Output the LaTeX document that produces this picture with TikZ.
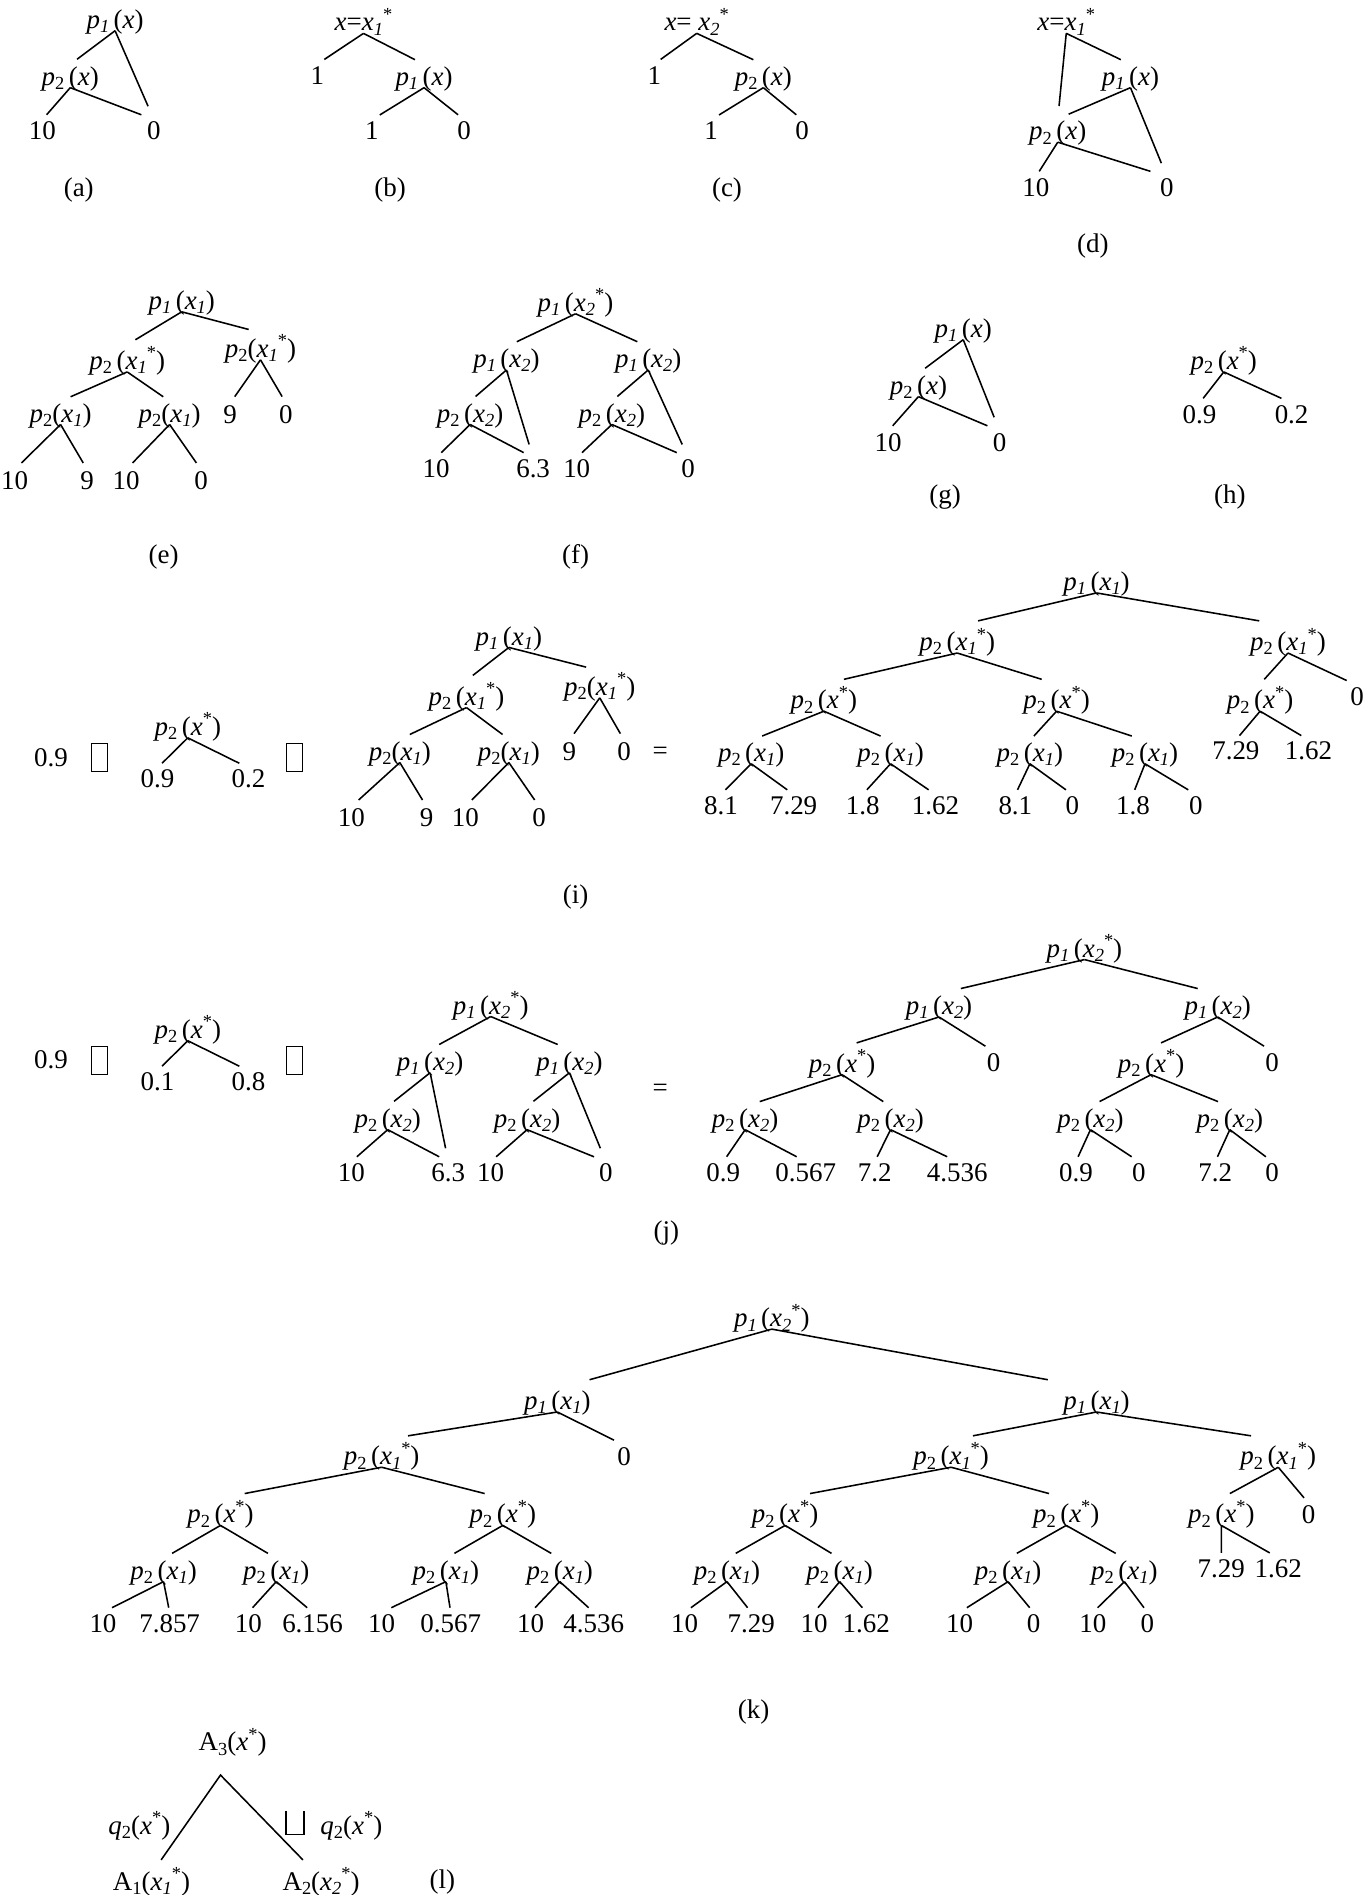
\documentclass[tikz,border=0pt]{standalone}
\usepackage{fontspec}
\usetikzlibrary{calc}
\setmainfont{Liberation Serif}
\newcommand\lo[1]{\raisebox{-0.35ex}{\fontsize{13}{13}\selectfont #1}}
\newcommand\hi[1]{\raisebox{0.85ex}{\fontsize{13}{13}\selectfont #1}}
\newcommand\Po{\textit{p}\lo{\textit{1}}}
\newcommand\Pt{\textit{p}\lo{2}}
\newcommand\xo{\textit{x}\lo{\textit{1}}}
\newcommand\xt{\textit{x}\lo{\textit{2}}}
\newcommand\xs{\textit{x}\hi{*}}
\newcommand\xos{\textit{x}\lo{\textit{1}}\hi{*}}
\newcommand\xts{\textit{x}\lo{\textit{2}}\hi{*}}
\newcommand\ed[2]{\coordinate (hubA) at ($(#1.base)+(0,2)$);\draw (hubA) -- ($(hubA)!0.85!(#2.north)$);}
\tikzset{every node/.style={inner sep=1pt,font=\fontsize{19}{22}\selectfont},
  tofu/.style={draw,line width=0.6pt,minimum width=0.4cm,minimum height=0.7cm,inner sep=0pt},
  every path/.style={line width=1.1pt}}
\begin{document}
\begin{tikzpicture}[x=0.03cm,y=-0.03cm]
\useasboundingbox (0,0) rectangle (1128,1564);
% (a)
\node (a1) at (95,18) {\Po\,(\textit{x})};
\node (a2) at (58,65) {\Pt\,(\textit{x})};
\node (a3) at (35,108) {10};
\node (a4) at (127,108) {0};
\node at (65,157) {(a)};
\ed{a1}{a2}\ed{a1}{a4}\ed{a2}{a3}\ed{a2}{a4}
% (b)
\node (b1) at (300,18) {\textit{x}=\xos};
\node (b2) at (262,62) {1};
\node (b3) at (350,65) {\Po\,(\textit{x})};
\node (b4) at (307,108) {1};
\node (b5) at (383,108) {0};
\node at (322,157) {(b)};
\ed{b1}{b2}\ed{b1}{b3}\ed{b3}{b4}\ed{b3}{b5}
% (c)
\node (c1) at (575,18) {\textit{x}= \xts};
\node (c2) at (540,62) {1};
\node (c3) at (630,65) {\Pt\,(\textit{x})};
\node (c4) at (587,108) {1};
\node (c5) at (662,108) {0};
\node at (600,157) {(c)};
\ed{c1}{c2}\ed{c1}{c3}\ed{c3}{c4}\ed{c3}{c5}
% (d)
\node (d1) at (880,18) {\textit{x}=\xos};
\node (d2) at (933,65) {\Po\,(\textit{x})};
\node (d3) at (873,110) {\Pt\,(\textit{x})};
\node (d4) at (855,155) {10};
\node (d5) at (963,155) {0};
\node at (902,203) {(d)};
\ed{d1}{d3}\ed{d1}{d2}\ed{d2}{d3}\ed{d2}{d5}\ed{d3}{d4}\ed{d3}{d5}
% (e)
\node (e1) at (150,250) {\Po\,(\xo)};
\node (e2) at (105,298) {\Pt\,(\xos)};
\node (e3) at (215,288) {\Pt(\xos)};
\node (e4) at (50,343) {\Pt(\xo)};
\node (e5) at (140,343) {\Pt(\xo)};
\node (e6) at (190,342) {9};
\node (e7) at (236,342) {0};
\node (e8) at (12,397) {10};
\node (e9) at (72,397) {9};
\node (e10) at (104,397) {10};
\node (e11) at (166,397) {0};
\node at (135,460) {(e)};
\ed{e1}{e2}\ed{e1}{e3}\ed{e2}{e4}\ed{e2}{e5}\ed{e3}{e6}\ed{e3}{e7}
\ed{e4}{e8}\ed{e4}{e9}\ed{e5}{e10}\ed{e5}{e11}
% (f)
\node (f1) at (475,250) {\Po\,(\xts)};
\node (f2) at (418,298) {\Po\,(\xt)};
\node (f3) at (535,298) {\Po\,(\xt)};
\node (f4) at (388,343) {\Pt\,(\xt)};
\node (f5) at (505,343) {\Pt\,(\xt)};
\node (f6) at (360,387) {10};
\node (f7) at (440,387) {6.3};
\node (f8) at (476,387) {10};
\node (f9) at (568,387) {0};
\node at (475,460) {(f)};
\ed{f1}{f2}\ed{f1}{f3}\ed{f2}{f4}\ed{f2}{f7}\ed{f4}{f6}\ed{f4}{f7}
\ed{f3}{f5}\ed{f3}{f9}\ed{f5}{f8}\ed{f5}{f9}
% (g)
\node (g1) at (795,273) {\Po\,(\textit{x})};
\node (g2) at (758,320) {\Pt\,(\textit{x})};
\node (g3) at (733,365) {10};
\node (g4) at (825,365) {0};
\node at (780,410) {(g)};
\ed{g1}{g2}\ed{g1}{g4}\ed{g2}{g3}\ed{g2}{g4}
% (h)
\node (h1) at (1010,298) {\Pt\,(\xs)};
\node (h2) at (990,342) {0.9};
\node (h3) at (1066,342) {0.2};
\node at (1015,410) {(h)};
\ed{h1}{h2}\ed{h1}{h3}
% (i)
\node (i0) at (42,625) {0.9};
\node[tofu] (ib1) at (82,625) {};
\node (ih1) at (155,600) {\Pt\,(\xs)};
\node (ih2) at (130,643) {0.9};
\node (ih3) at (205,643) {0.2};
\node[tofu] (ib2) at (243,625) {};
\ed{ih1}{ih2}\ed{ih1}{ih3}
\node (ie1) at (420,527) {\Po\,(\xo)};
\node (ie2) at (385,575) {\Pt\,(\xos)};
\node (ie3) at (495,567) {\Pt(\xos)};
\node (ie4) at (330,622) {\Pt(\xo)};
\node (ie5) at (420,622) {\Pt(\xo)};
\node (ie6) at (470,620) {9};
\node (ie7) at (515,620) {0};
\node (ie8) at (290,675) {10};
\node (ie9) at (352,675) {9};
\node (ie10) at (384,675) {10};
\node (ie11) at (445,675) {0};
\ed{ie1}{ie2}\ed{ie1}{ie3}\ed{ie2}{ie4}\ed{ie2}{ie5}\ed{ie3}{ie6}\ed{ie3}{ie7}
\ed{ie4}{ie8}\ed{ie4}{ie9}\ed{ie5}{ie10}\ed{ie5}{ie11}
\node (ieq) at (545,622) {=};
\node (ib1n) at (905,482) {\Po\,(\xo)};
\node (ib2n) at (790,530) {\Pt\,(\xos)};
\node (ib3n) at (1063,530) {\Pt\,(\xos)};
\node (ib4) at (680,578) {\Pt\,(\xs)};
\node (ib5) at (872,578) {\Pt\,(\xs)};
\node (ib6) at (1040,578) {\Pt\,(\xs)};
\node (ib7) at (1120,575) {0};
\node (ib8) at (620,623) {\Pt\,(\xo)};
\node (ib9) at (735,623) {\Pt\,(\xo)};
\node (ib10) at (850,623) {\Pt\,(\xo)};
\node (ib11) at (945,623) {\Pt\,(\xo)};
\node (ib12) at (1020,620) {7.29};
\node (ib13) at (1080,620) {1.62};
\node (il1) at (595,665) {8.1};
\node (il2) at (655,665) {7.29};
\node (il3) at (712,665) {1.8};
\node (il4) at (772,665) {1.62};
\node (il5) at (838,665) {8.1};
\node (il6) at (885,665) {0};
\node (il7) at (935,665) {1.8};
\node (il8) at (987,665) {0};
\node at (475,740) {(i)};
\ed{ib1n}{ib2n}\ed{ib1n}{ib3n}\ed{ib2n}{ib4}\ed{ib2n}{ib5}\ed{ib3n}{ib6}\ed{ib3n}{ib7}
\ed{ib4}{ib8}\ed{ib4}{ib9}\ed{ib5}{ib10}\ed{ib5}{ib11}\ed{ib6}{ib12}\ed{ib6}{ib13}
\ed{ib8}{il1}\ed{ib8}{il2}\ed{ib9}{il3}\ed{ib9}{il4}\ed{ib10}{il5}\ed{ib10}{il6}\ed{ib11}{il7}\ed{ib11}{il8}
% (j)
\node (j0) at (42,875) {0.9};
\node[tofu] (jb1) at (82,875) {};
\node (jh1) at (155,850) {\Pt\,(\xs)};
\node (jh2) at (130,893) {0.1};
\node (jh3) at (205,893) {0.8};
\node[tofu] (jb2) at (243,875) {};
\ed{jh1}{jh2}\ed{jh1}{jh3}
\node (jf1) at (405,830) {\Po\,(\xts)};
\node (jf2) at (355,878) {\Po\,(\xt)};
\node (jf3) at (470,878) {\Po\,(\xt)};
\node (jf4) at (320,925) {\Pt\,(\xt)};
\node (jf5) at (435,925) {\Pt\,(\xt)};
\node (jf6) at (290,968) {10};
\node (jf7) at (370,968) {6.3};
\node (jf8) at (405,968) {10};
\node (jf9) at (500,968) {0};
\ed{jf1}{jf2}\ed{jf1}{jf3}\ed{jf2}{jf4}\ed{jf2}{jf7}\ed{jf4}{jf6}\ed{jf4}{jf7}
\ed{jf3}{jf5}\ed{jf3}{jf9}\ed{jf5}{jf8}\ed{jf5}{jf9}
\node (jeq) at (545,900) {=};
\node (jb1n) at (895,783) {\Po\,(\xts)};
\node (jb2n) at (775,832) {\Po\,(\xt)};
\node (jb3n) at (1005,832) {\Po\,(\xt)};
\node (jb4) at (695,878) {\Pt\,(\xs)};
\node (jb5) at (820,877) {0};
\node (jb6) at (950,878) {\Pt\,(\xs)};
\node (jb7) at (1050,877) {0};
\node (jb8) at (615,925) {\Pt\,(\xt)};
\node (jb9) at (735,925) {\Pt\,(\xt)};
\node (jb10) at (900,925) {\Pt\,(\xt)};
\node (jb11) at (1015,925) {\Pt\,(\xt)};
\node (jl1) at (597,968) {0.9};
\node (jl2) at (665,968) {0.567};
\node (jl3) at (722,968) {7.2};
\node (jl4) at (790,968) {4.536};
\node (jl5) at (888,968) {0.9};
\node (jl6) at (940,968) {0};
\node (jl7) at (1003,968) {7.2};
\node (jl8) at (1050,968) {0};
\node at (550,1018) {(j)};
\ed{jb1n}{jb2n}\ed{jb1n}{jb3n}\ed{jb2n}{jb4}\ed{jb2n}{jb5}\ed{jb3n}{jb6}\ed{jb3n}{jb7}
\ed{jb4}{jb8}\ed{jb4}{jb9}\ed{jb6}{jb10}\ed{jb6}{jb11}
\ed{jb8}{jl1}\ed{jb8}{jl2}\ed{jb9}{jl3}\ed{jb9}{jl4}\ed{jb10}{jl5}\ed{jb10}{jl6}\ed{jb11}{jl7}\ed{jb11}{jl8}
% (k)
\node (k1) at (637,1088) {\Po\,(\xts)};
\node (k2) at (460,1158) {\Po\,(\xo)};
\node (k3) at (905,1158) {\Po\,(\xo)};
\node (k4) at (315,1202) {\Pt\,(\xos)};
\node (k5) at (515,1202) {0};
\node (k6) at (785,1202) {\Pt\,(\xos)};
\node (k7) at (1055,1202) {\Pt\,(\xos)};
\node (k8) at (182,1250) {\Pt\,(\xs)};
\node (k9) at (415,1250) {\Pt\,(\xs)};
\node (k10) at (648,1250) {\Pt\,(\xs)};
\node (k11) at (880,1250) {\Pt\,(\xs)};
\node (k12) at (1008,1250) {\Pt\,(\xs)};
\node (k13) at (1080,1250) {0};
\node (k14) at (135,1298) {\Pt\,(\xo)};
\node (k15) at (228,1298) {\Pt\,(\xo)};
\node (k16) at (368,1298) {\Pt\,(\xo)};
\node (k17) at (462,1298) {\Pt\,(\xo)};
\node (k18) at (600,1298) {\Pt\,(\xo)};
\node (k19) at (693,1298) {\Pt\,(\xo)};
\node (k20) at (832,1298) {\Pt\,(\xo)};
\node (k21) at (928,1298) {\Pt\,(\xo)};
\node (k22) at (1008,1295) {7.29};
\node (k23) at (1055,1295) {1.62};
\node (kl1) at (85,1340) {10};
\node (kl2) at (140,1340) {7.857};
\node (kl3) at (205,1340) {10};
\node (kl4) at (258,1340) {6.156};
\node (kl5) at (315,1340) {10};
\node (kl6) at (372,1340) {0.567};
\node (kl7) at (438,1340) {10};
\node (kl8) at (490,1340) {4.536};
\node (kl9) at (565,1340) {10};
\node (kl10) at (620,1340) {7.29};
\node (kl11) at (672,1340) {10};
\node (kl12) at (715,1340) {1.62};
\node (kl13) at (792,1340) {10};
\node (kl14) at (853,1340) {0};
\node (kl15) at (902,1340) {10};
\node (kl16) at (947,1340) {0};
\node at (622,1413) {(k)};
\ed{k1}{k2}\ed{k1}{k3}\ed{k2}{k4}\ed{k2}{k5}\ed{k3}{k6}\ed{k3}{k7}
\ed{k4}{k8}\ed{k4}{k9}\ed{k6}{k10}\ed{k6}{k11}\ed{k7}{k12}\ed{k7}{k13}
\ed{k8}{k14}\ed{k8}{k15}\ed{k9}{k16}\ed{k9}{k17}\ed{k10}{k18}\ed{k10}{k19}\ed{k11}{k20}\ed{k11}{k21}
\ed{k12}{k22}\ed{k12}{k23}
\ed{k14}{kl1}\ed{k14}{kl2}\ed{k15}{kl3}\ed{k15}{kl4}\ed{k16}{kl5}\ed{k16}{kl6}\ed{k17}{kl7}\ed{k17}{kl8}
\ed{k18}{kl9}\ed{k18}{kl10}\ed{k19}{kl11}\ed{k19}{kl12}\ed{k20}{kl13}\ed{k20}{kl14}\ed{k21}{kl15}\ed{k21}{kl16}
% (l)
\node (l1) at (192,1438) {A\lo{3}(\xs)};
\node (l2) at (115,1507) {\textit{q}\lo{2}(\xs)};
\node (l3) at (290,1507) {\textit{q}\lo{2}(\xs)};
\node (l4) at (125,1553) {A\lo{1}(\xos)};
\node (l5) at (265,1553) {A\lo{2}(\xts)};
\node at (365,1553) {(l)};
\coordinate (lt) at (182,1465);
\coordinate (ll) at (133,1535);
\coordinate (lr) at (250,1535);
\draw (ll) -- (lt) -- (lr);
\draw[line width=0.9pt] (236,1495) -- (236,1514) -- (251,1514) -- (251,1495);
\end{tikzpicture}
\end{document}
